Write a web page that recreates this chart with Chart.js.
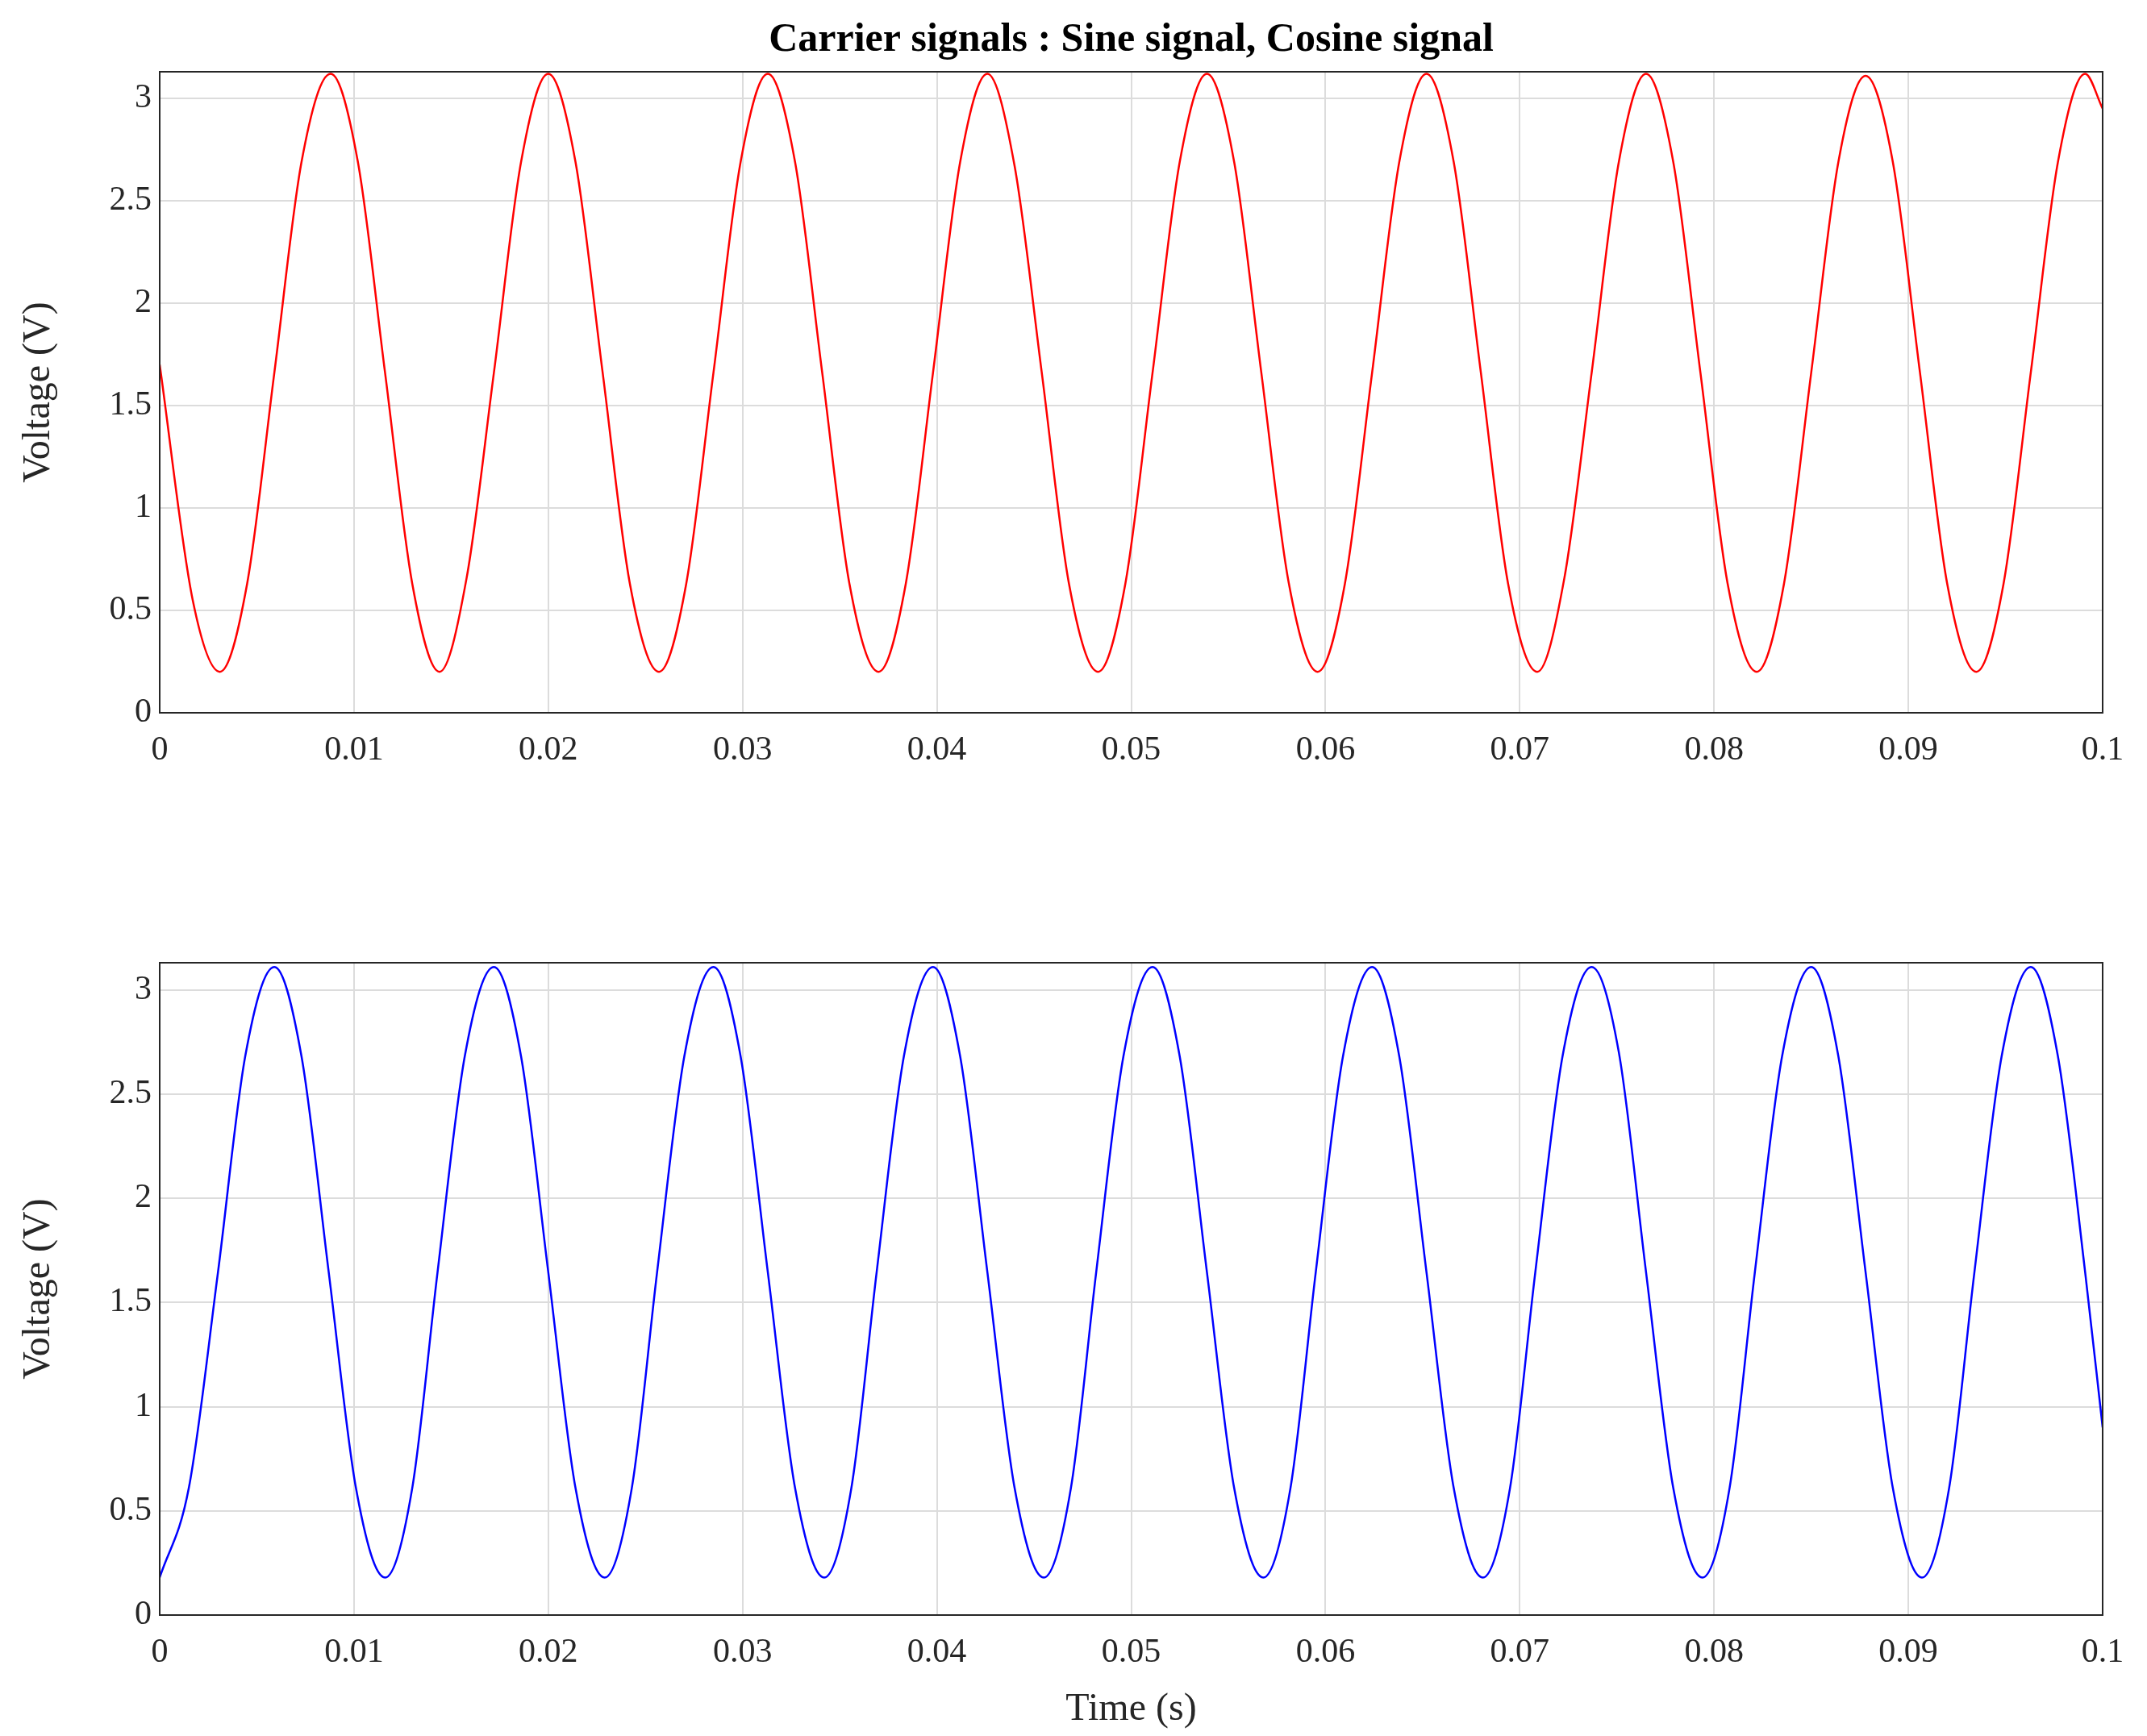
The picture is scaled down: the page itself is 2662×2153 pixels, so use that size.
<!DOCTYPE html>
<html><head><meta charset="utf-8">
<script src="https://cdn.jsdelivr.net/npm/chart.js"></script>
<style>html,body{margin:0;padding:0;background:#fff;width:2662px;height:2153px;overflow:hidden}
canvas{position:absolute;left:0}</style></head><body>
<div style="position:absolute;left:0;top:0;width:2662px;height:1000px"><canvas id="c1"></canvas></div>
<div style="position:absolute;left:0;top:1100px;width:2662px;height:1053px"><canvas id="c2"></canvas></div>
<script>
const sineT=[0,0.0017,0.0031,0.0045,0.0059,0.0073,0.0088,0.0102,0.0116,0.0130,0.0144,0.0158,0.0172,0.0186,0.0200,0.0214,0.0228,0.0242,0.0257,0.0271,0.0285,0.0299,0.0313,0.0327,0.0341,0.0355,0.0370,0.0384,0.0398,0.0412,0.0426,0.0440,0.0454,0.0468,0.0483,0.0497,0.0511,0.0525,0.0539,0.0553,0.0567,0.0581,0.0596,0.0610,0.0624,0.0638,0.0652,0.0666,0.0680,0.0694,0.0709,0.0723,0.0737,0.0751,0.0765,0.0779,0.0793,0.0807,0.0822,0.0836,0.0850,0.0864,0.0878,0.0892,0.0906,0.0920,0.0935,0.0949,0.0963,0.0977,0.0991,0.1000];
const sineV=[1.70,0.55,0.20,0.63,1.66,2.69,3.12,2.69,1.66,0.63,0.20,0.66,1.66,2.69,3.12,2.69,1.66,0.63,0.20,0.63,1.66,2.69,3.12,2.69,1.66,0.63,0.20,0.63,1.66,2.69,3.12,2.67,1.66,0.63,0.20,0.63,1.66,2.69,3.12,2.69,1.66,0.64,0.20,0.63,1.66,2.69,3.12,2.69,1.66,0.63,0.20,0.66,1.66,2.69,3.12,2.69,1.66,0.63,0.20,0.63,1.66,2.69,3.11,2.69,1.66,0.63,0.20,0.63,1.66,2.69,3.12,2.95];
const cosT=[0,0.0015,0.0030,0.0044,0.0059,0.0073,0.0087,0.0101,0.0116,0.0130,0.0143,0.0157,0.0172,0.0186,0.0200,0.0214,0.0229,0.0243,0.0256,0.0270,0.0285,0.0299,0.0313,0.0327,0.0342,0.0356,0.0369,0.0383,0.0398,0.0412,0.0426,0.0440,0.0455,0.0469,0.0482,0.0496,0.0511,0.0525,0.0539,0.0553,0.0568,0.0582,0.0595,0.0609,0.0624,0.0638,0.0652,0.0666,0.0681,0.0695,0.0708,0.0722,0.0737,0.0751,0.0765,0.0779,0.0794,0.0808,0.0821,0.0835,0.0850,0.0864,0.0878,0.0892,0.0907,0.0921,0.0934,0.0948,0.0963,0.0977,0.0991,0.1000];
const cosV=[0.18,0.61,1.645,2.68,3.11,2.68,1.645,0.61,0.18,0.61,1.645,2.68,3.11,2.68,1.645,0.61,0.18,0.61,1.645,2.68,3.11,2.68,1.645,0.61,0.18,0.61,1.645,2.68,3.11,2.68,1.645,0.61,0.18,0.61,1.645,2.68,3.11,2.68,1.645,0.61,0.18,0.61,1.645,2.68,3.11,2.68,1.645,0.61,0.18,0.61,1.645,2.68,3.11,2.70,1.645,0.61,0.18,0.61,1.645,2.68,3.11,2.68,1.645,0.61,0.18,0.61,1.645,2.68,3.11,2.68,1.645,0.90];
const xTicks=[0,0.01,0.02,0.03,0.04,0.05,0.06,0.07,0.08,0.09,0.1];
const yTicks=[0,0.5,1,1.5,2,2.5,3];
const FONT='"Liberation Serif", serif';
const fmt=v=>String(Number(v.toFixed(3)));
const frame={id:'frame',afterDraw(c){const a=c.chartArea,x=c.ctx;x.save();x.strokeStyle='#262626';x.lineWidth=2;x.strokeRect(a.left,a.top,a.right-a.left,a.bottom-a.top);
 if(c.options.plugins.myTitle){x.fillStyle='#000';x.font='bold 50px '+FONT;x.textAlign='center';x.textBaseline='middle';x.fillText(c.options.plugins.myTitle,(a.left+a.right)/2,50);}x.restore();}};
function make(id,T,V,color,title,xh,top,xlabel){
 new Chart(document.getElementById(id),{type:'line',
 data:{datasets:[{data:T.map((t,i)=>({x:t,y:V[i]})),borderColor:color,borderWidth:2.5,pointRadius:0,cubicInterpolationMode:'monotone',fill:false}]},
 options:{responsive:true,maintainAspectRatio:false,animation:false,
  layout:{padding:{top:top,right:55,left:0,bottom:0}},
  plugins:{legend:{display:false},tooltip:{enabled:false},myTitle:title},
  scales:{
   x:{type:'linear',min:0,max:0.1,afterBuildTicks:s=>{s.ticks=xTicks.map(v=>({value:v}))},
    ticks:{callback:fmt,color:'#262626',font:{family:FONT,size:42},padding:22,maxRotation:0},
    grid:{color:'#dcdcdc',lineWidth:2,tickLength:0},border:{display:false},
    title:{display:!!xlabel,text:xlabel,color:'#262626',font:{family:FONT,size:48},padding:{top:0}},
    afterFit:s=>{s.height=xh}},
   y:{min:0,max:3.13,afterBuildTicks:s=>{s.ticks=yTicks.map(v=>({value:v}))},
    ticks:{callback:fmt,color:'#262626',font:{family:FONT,size:42},padding:10},
    grid:{color:'#dcdcdc',lineWidth:2,tickLength:0},border:{display:false},
    title:{display:true,text:'Voltage (V)',color:'#262626',font:{family:FONT,size:48},padding:{top:20,bottom:0}},
    afterFit:s=>{s.width=198}}
  }},plugins:[frame]});
}
make('c1',sineT,sineV,'#ff0000','Carrier signals : Sine signal, Cosine signal',116,89,'');
make('c2',cosT,cosV,'#0000ff',null,150,94,'Time (s)');
</script></body></html>
